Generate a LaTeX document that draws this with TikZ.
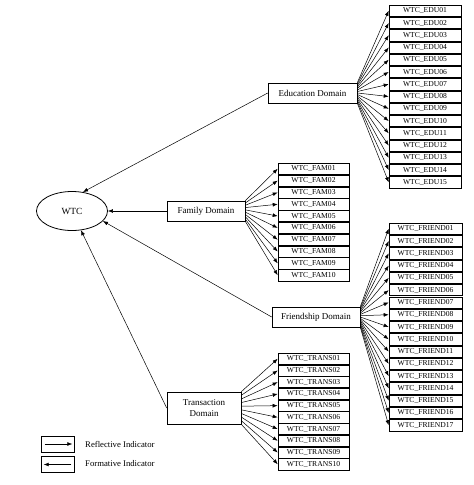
\documentclass[tikz,border=0pt]{standalone}
\usepackage{fontspec}
\setmainfont{Liberation Serif}
\usetikzlibrary{arrows.meta,calc,shapes.geometric}
\begin{document}
\begin{tikzpicture}[x=1pt,y=-1pt,
  ind/.style={draw,line width=0.6pt,minimum height=11.2pt,inner sep=0pt,font=\fontsize{7.6}{8}\selectfont},
  dom/.style={draw,line width=0.6pt,minimum height=20pt,inner sep=0pt,font=\fontsize{9}{10.5}\selectfont},
  arr/.style={-{Latex[length=5pt,width=3.8pt]},line width=0.5pt},
  legbox/.style={draw,line width=0.6pt,minimum width=33pt,minimum height=16pt,inner sep=0pt},
  legtext/.style={anchor=west,inner sep=0pt,font=\fontsize{8.7}{10}\selectfont}]
\useasboundingbox (0,0) rectangle (474,485);

% central construct
\node[draw,ellipse,line width=0.8pt,minimum width=71pt,minimum height=39pt,inner sep=0pt,
      font=\fontsize{9.4}{11}\selectfont] (wtc) at (72,211) {WTC};

% domains
\node[dom,minimum width=89pt] (edu) at (312.5,93) {Education Domain};
\node[dom,minimum width=78pt] (fam) at (206,211) {Family Domain};
\node[dom,minimum width=88pt] (fri) at (316,317) {Friendship Domain};
\node[dom,minimum width=74pt,minimum height=32pt,align=center] (tra) at (204,408) {Transaction\\Domain};

% domain -> WTC
\draw[arr] (edu.west) -- (wtc.60);
\draw[arr] (fam.west) -- (wtc.east);
\draw[arr] (fri.west) -- (wtc.-18);
\draw[arr] (tra.west) -- (wtc.-65);

% education indicators
\foreach \n [count=\i] in {01,02,03,04,05,06,07,08,09,10,11,12,13,14,15}{
  \pgfmathsetmacro\yy{10.75+12.25*(\i-1)}
  \pgfmathsetmacro\tt{(\i-1)/14}
  \node[ind,minimum width=72pt] (e\i) at (425,\yy) {WTC\_EDU\n};
  \draw[arr] ($(edu.north east)!\tt!(edu.south east)$) -- (e\i.west);
}

% family indicators
\foreach \n [count=\i] in {01,02,03,04,05,06,07,08,09,10}{
  \pgfmathsetmacro\yy{168.75+11.83*(\i-1)}
  \pgfmathsetmacro\tt{(\i-1)/9}
  \node[ind,minimum width=71pt] (f\i) at (313.5,\yy) {WTC\_FAM\n};
  \draw[arr] ($(fam.north east)!\tt!(fam.south east)$) -- (f\i.west);
}

% friendship indicators
\foreach \n [count=\i] in {01,02,03,04,05,06,07,08,09,10,11,12,13,14,15,16,17}{
  \pgfmathsetmacro\yy{228.75+12.28*(\i-1)}
  \pgfmathsetmacro\tt{(\i-1)/16}
  \node[ind,minimum width=73pt] (r\i) at (425.5,\yy) {WTC\_FRIEND\n};
  \draw[arr] ($(fri.north east)!\tt!(fri.south east)$) -- (r\i.west);
}

% transaction indicators
\foreach \n [count=\i] in {01,02,03,04,05,06,07,08,09,10}{
  \pgfmathsetmacro\yy{358.75+11.72*(\i-1)}
  \pgfmathsetmacro\tt{(\i-1)/9}
  \node[ind,minimum width=71pt] (t\i) at (313.5,\yy) {WTC\_TRANS\n};
  \draw[arr] ($(tra.north east)!\tt!(tra.south east)$) -- (t\i.west);
}

% legend
\node[legbox] (lg1) at (57.5,444) {};
\node[legbox] (lg2) at (57.5,464.5) {};
\coordinate (l1a) at ($(lg1.west)+(4,0)$);
\coordinate (l1b) at ($(lg1.east)+(-2,0)$);
\coordinate (l2a) at ($(lg2.west)+(3,0)$);
\coordinate (l2b) at ($(lg2.east)+(-3,0)$);
\draw[arr] (l1a) -- (l1b);
\draw[arr] (l2b) -- (l2a);
\node[legtext] (lt1) at (85,444) {Reflective Indicator};
\node[legtext] (lt2) at (85,464) {Formative Indicator};
\end{tikzpicture}
\end{document}
